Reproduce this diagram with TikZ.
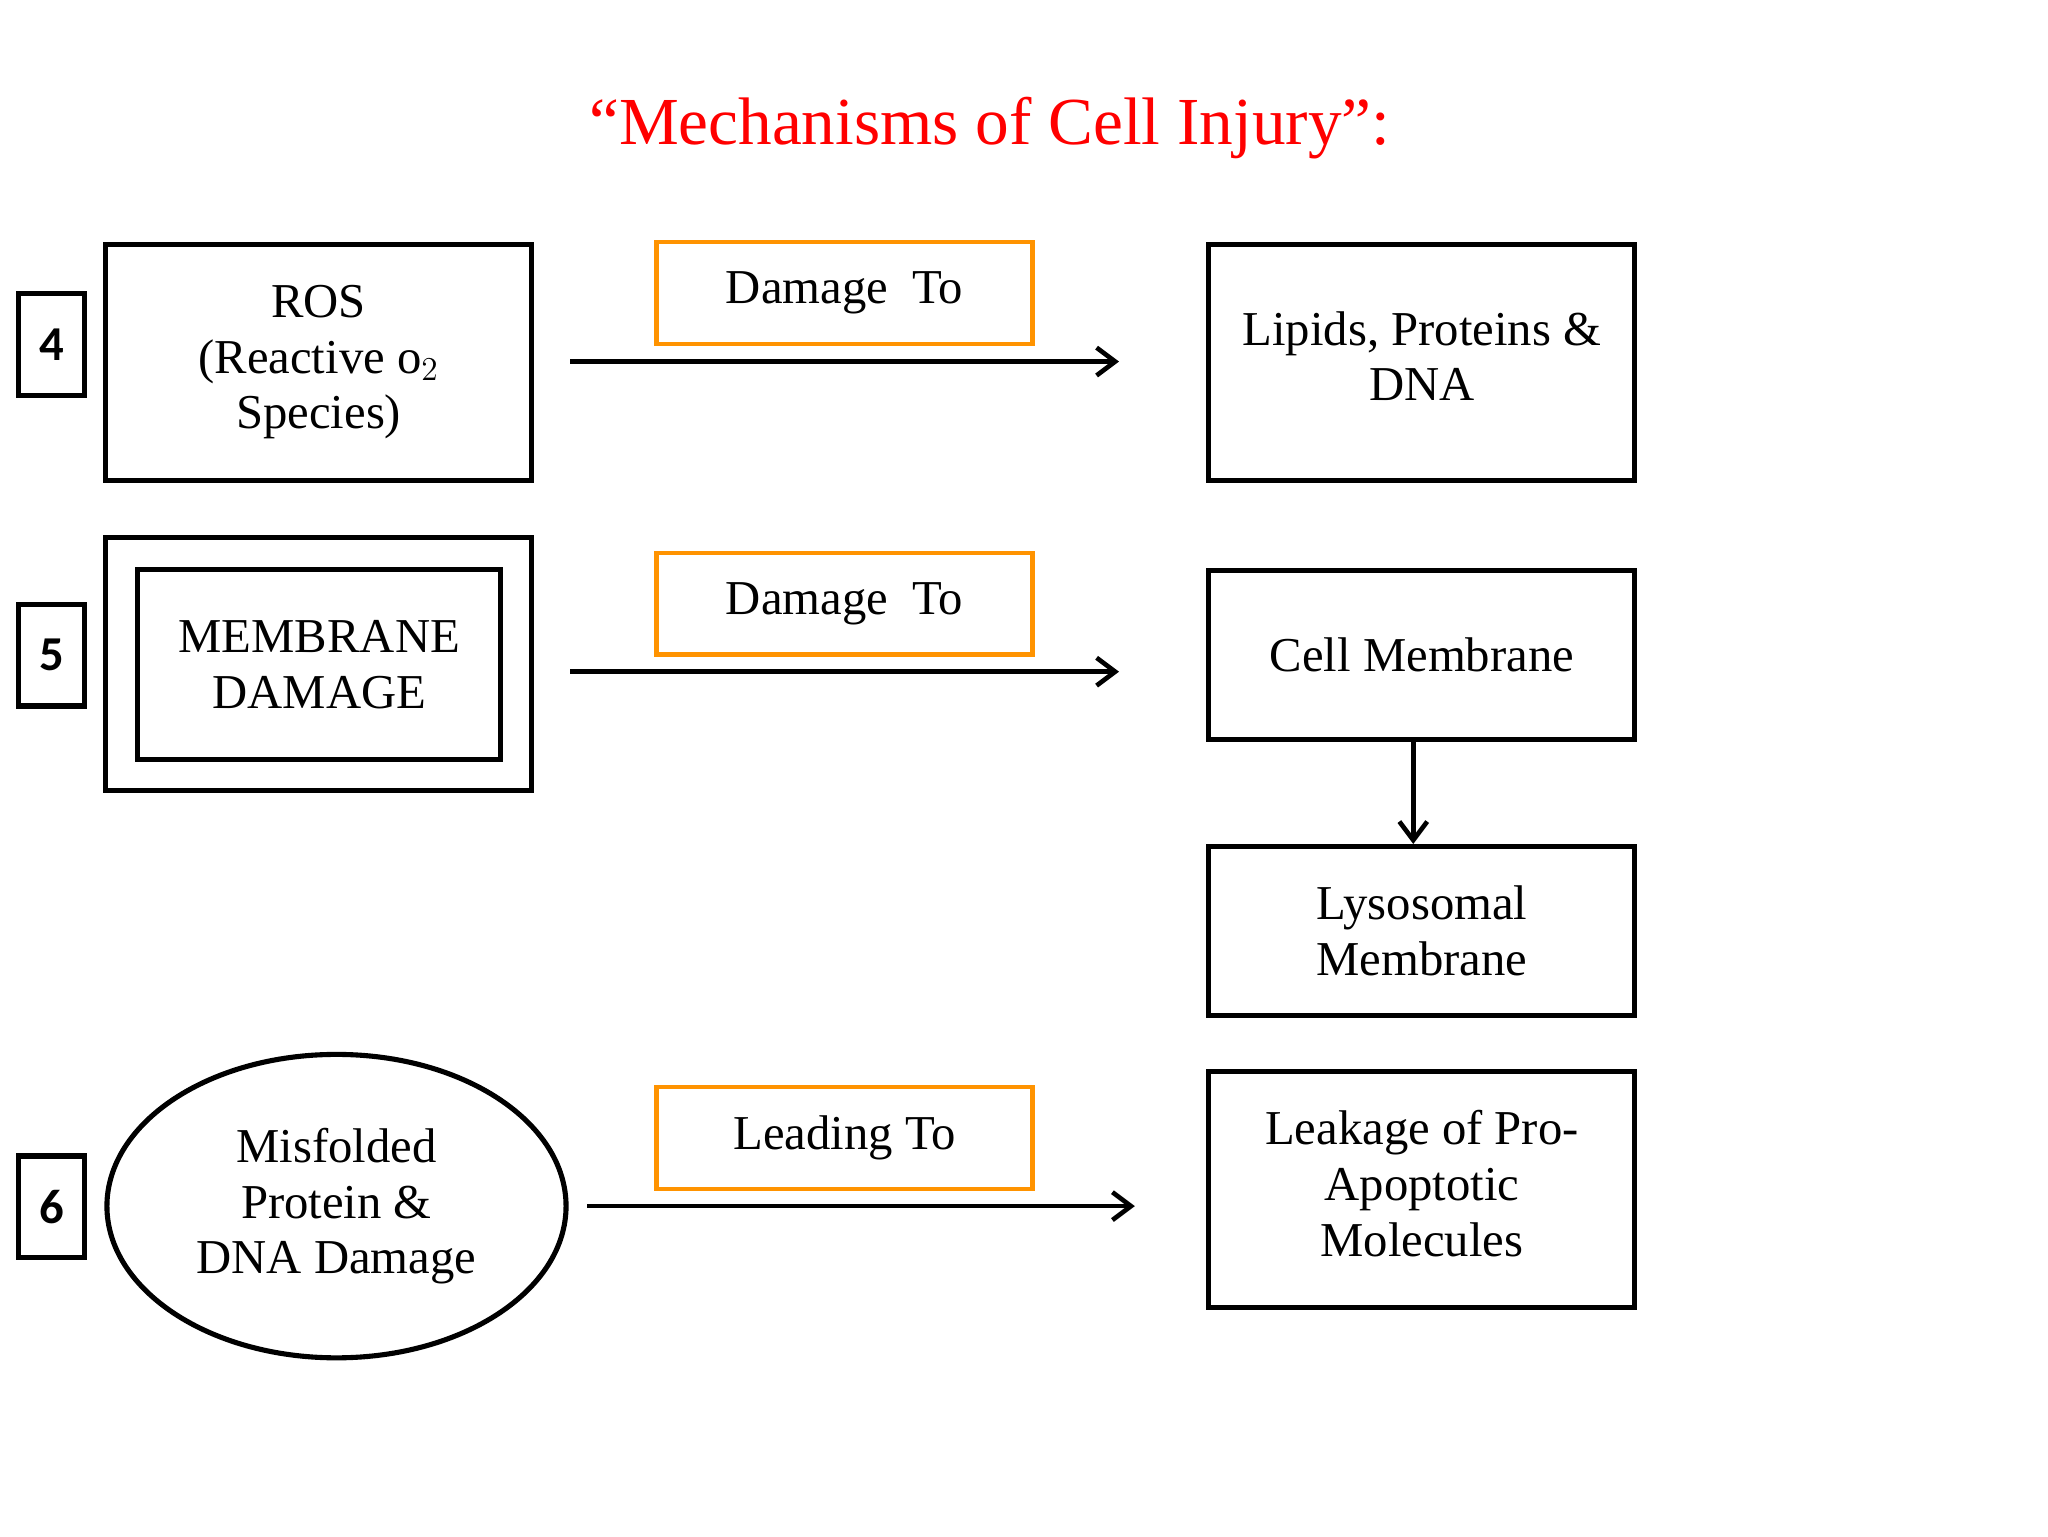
\documentclass[tikz,border=0pt]{standalone}
\usepackage{fontspec}
\setmainfont{Liberation Serif}
\newfontfamily\numfont{Carlito}
\usetikzlibrary{arrows.meta,shapes.geometric}
\begin{document}
\begin{tikzpicture}[x=0.02cm,y=-0.02cm,
  box/.style={draw,line width=2.2pt,inner sep=0pt,align=center,font=\fontsize{21}{24}\selectfont},
  txt/.style={align=center,inner sep=0pt,font=\fontsize{21}{24}\selectfont},
  lab/.style={draw=orange!85!yellow,line width=1.8pt,inner sep=0pt,font=\fontsize{21}{27}\selectfont},
  num/.style={draw,line width=2.2pt,inner sep=0pt,minimum width=1.0cm,minimum height=1.54cm,font=\numfont\bfseries\fontsize{21}{25}\selectfont},
  arr/.style={-{Straight Barb[length=8pt,width=12pt]},line width=2pt}]
\useasboundingbox (0,0) rectangle (1552,1164);
\node[text=red,font=\fontsize{29}{34}\selectfont] (title) at (750,97) {“Mechanisms of Cell Injury”:};
% row 4
\node[num] (n4) at (39,261) {4};
\node[box,minimum width=6.46cm,minimum height=3.58cm] (ros) at (241.5,274.5) {ROS\\(Reactive o$_2$\\Species)};
\node[lab,minimum width=5.7cm,minimum height=1.54cm] (d1) at (640,222) {Damage~ To};
\node[box,minimum width=6.46cm,minimum height=3.58cm] (lip) at (1077.5,274.5) {};
\node[txt] (liptxt) at (1077.5,270) {Lipids, Proteins \&\\DNA};
\coordinate (a1s) at (432,274); \coordinate (a1e) at (848,274);
\draw[arr] (a1s) -- (a1e);
% row 5
\node[num] (n5) at (39,496.5) {5};
\node[box,minimum width=6.46cm,minimum height=3.84cm] (outer) at (241.5,503) {};
\node[box,minimum width=5.5cm,minimum height=2.88cm] (mem) at (242,503.5) {MEMBRANE\\DAMAGE};
\node[lab,minimum width=5.7cm,minimum height=1.54cm] (d2) at (640,457.5) {Damage~ To};
\coordinate (a2s) at (432,509); \coordinate (a2e) at (848,509);
\draw[arr] (a2s) -- (a2e);
\node[box,minimum width=6.46cm,minimum height=2.56cm] (cell) at (1077.5,496.5) {Cell Membrane};
\node[box,minimum width=6.46cm,minimum height=2.56cm] (lys) at (1077.5,705.5) {Lysosomal\\Membrane};
\draw[arr] (cell.south -| 1071,0) -- (lys.north -| 1071,0);
% row 6
\node[num] (n6) at (39,914.5) {6};
\node[draw,ellipse,line width=2.2pt,minimum width=6.96cm,minimum height=4.6cm,inner sep=0pt,align=center,font=\fontsize{21}{24}\selectfont] (mis) at (255,914) {Misfolded\\Protein \&\\DNA Damage};
\node[lab,minimum width=5.7cm,minimum height=1.54cm] (l3) at (640,862.5) {Leading To};
\coordinate (a3s) at (445,914); \coordinate (a3e) at (860,914);
\draw[arr] (a3s) -- (a3e);
\node[box,minimum width=6.46cm,minimum height=3.58cm] (leak) at (1077.5,901.5) {};
\node[txt] (leaktxt) at (1077.5,897) {Leakage of Pro-\\Apoptotic\\Molecules};
\end{tikzpicture}
\end{document}
